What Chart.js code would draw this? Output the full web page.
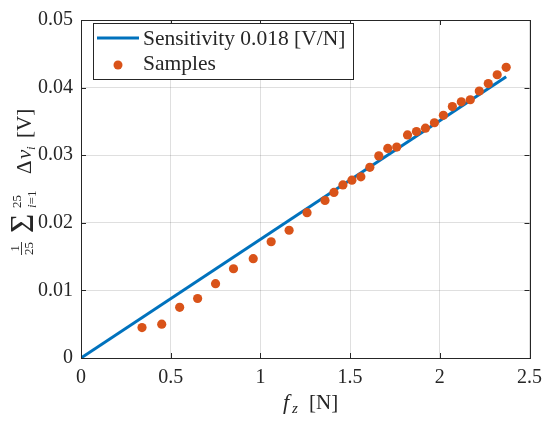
<!DOCTYPE html>
<html>
<head>
<meta charset="utf-8">
<script src="https://cdn.jsdelivr.net/npm/chart.js@4"></script>
<style>
  body { margin: 0; background: #fff; }
  #wrap { width: 550px; height: 423px; }
</style>
</head>
<body>
<div id="wrap"><canvas id="myChart" width="550" height="423"></canvas></div>
<script>
const xTicks = [0, 0.5, 1, 1.5, 2, 2.5];
const xTickLabels = ["0", "0.5", "1", "1.5", "2", "2.5"];
const yTicks = [0, 0.01, 0.02, 0.03, 0.04, 0.05];
const yTickLabels = ["0", "0.01", "0.02", "0.03", "0.04", "0.05"];

// applied force [N] and mean voltage change [V] of the samples
const forceN = [0.34, 0.45, 0.55, 0.65, 0.75, 0.85, 0.96, 1.06, 1.16, 1.26, 1.36,
  1.41, 1.46, 1.51, 1.56, 1.61, 1.66, 1.71, 1.76, 1.82, 1.87, 1.92, 1.97, 2.02,
  2.07, 2.12, 2.17, 2.22, 2.27, 2.32, 2.37];
const meanDeltaV = [0.0045, 0.0050, 0.0075, 0.0088, 0.0110, 0.0132, 0.0147, 0.0172,
  0.0189, 0.0215, 0.0233, 0.0245, 0.0256, 0.0263, 0.0268, 0.0282, 0.0299, 0.0310,
  0.0312, 0.0330, 0.0335, 0.0340, 0.0348, 0.0359, 0.0372, 0.0379, 0.0382, 0.0395,
  0.0406, 0.0419, 0.0430];

// sensitivity fit line
const fitX = [0, 2.37];
const fitY = [0, 0.0416];

const labels = ["Sensitivity 0.018 [V/N]", "Samples"];

const SERIF = '"Liberation Serif", "DejaVu Serif", serif';
const INK = "#262626";
const BLUE = "#0072BD";
const ORANGE = "#D95319";

const boxPlugin = {
  id: "boxPlugin",
  afterDraw(chart) {
    const ctx = chart.ctx;
    const a = chart.chartArea;
    const xs = chart.scales.x, ys = chart.scales.y;
    ctx.save();
    // axes box
    ctx.strokeStyle = INK;
    ctx.lineWidth = 1;
    ctx.strokeRect(Math.round(a.left) + 0.5, Math.round(a.top) + 0.5,
      Math.round(a.right - a.left), Math.round(a.bottom - a.top));
    // inward ticks on all sides
    ctx.beginPath();
    xTicks.forEach(v => {
      const px = Math.round(xs.getPixelForValue(v)) + 0.5;
      ctx.moveTo(px, a.bottom); ctx.lineTo(px, a.bottom - 5);
      ctx.moveTo(px, a.top); ctx.lineTo(px, a.top + 5);
    });
    yTicks.forEach(v => {
      const py = Math.round(ys.getPixelForValue(v)) + 0.5;
      ctx.moveTo(a.left, py); ctx.lineTo(a.left + 5, py);
      ctx.moveTo(a.right, py); ctx.lineTo(a.right - 5, py);
    });
    ctx.stroke();

    // legend
    ctx.fillStyle = "#fff";
    ctx.fillRect(93, 23, 260, 56);
    ctx.strokeStyle = INK;
    ctx.strokeRect(93.5, 23.5, 260, 56);
    ctx.strokeStyle = BLUE;
    ctx.lineWidth = 3;
    ctx.beginPath();
    ctx.moveTo(97, 38); ctx.lineTo(139, 38);
    ctx.stroke();
    ctx.fillStyle = ORANGE;
    ctx.beginPath();
    ctx.arc(118, 65, 4.5, 0, Math.PI * 2);
    ctx.fill();
    ctx.fillStyle = INK;
    ctx.font = "21.5px " + SERIF;
    ctx.textBaseline = "alphabetic";
    ctx.textAlign = "left";
    ctx.fillText(labels[0], 143, 45);
    ctx.fillText(labels[1], 143, 70);

    // x title: f_z [N]
    ctx.font = "italic 22px " + SERIF;
    ctx.fillText("f", 283, 409);
    ctx.font = "italic 15px " + SERIF;
    ctx.fillText("z", 292, 413);
    ctx.font = "21px " + SERIF;
    ctx.fillText("[N]", 309, 409);

    // y title: 1/25 sum_{i=1}^{25} Δv_i [V]
    ctx.translate(31, 258);
    ctx.rotate(-Math.PI / 2);
    ctx.font = "13px " + SERIF;
    const dW = ctx.measureText("25").width;
    const nW = ctx.measureText("1").width;
    ctx.fillText("1", 3 + (dW - nW) / 2, -12);
    ctx.fillRect(3, -10, dW, 0.9);
    ctx.fillText("25", 3, 2);
    ctx.font = "33px " + SERIF;
    ctx.fillText("\u03A3", 25, 2);
    ctx.font = "13px " + SERIF;
    ctx.fillText("25", 50, -10);
    ctx.font = "italic 13px " + SERIF;
    ctx.fillText("i", 50, 5);
    const iW = ctx.measureText("i").width;
    ctx.font = "13px " + SERIF;
    ctx.fillText("=1", 50 + iW, 5);
    ctx.font = "21px " + SERIF;
    ctx.fillText("\u0394", 84, 0);
    ctx.font = "italic 21px " + SERIF;
    ctx.fillText("v", 99, 0);
    ctx.font = "italic 13px " + SERIF;
    ctx.fillText("i", 108, 4);
    ctx.font = "21px " + SERIF;
    ctx.fillText("[V]", 120, 0);
    ctx.restore();
  }
};

new Chart(document.getElementById("myChart"), {
  type: "scatter",
  data: {
    datasets: [
      {
        label: labels[0],
        data: fitX.map((x, i) => ({ x, y: fitY[i] })),
        showLine: true,
        borderColor: BLUE,
        borderWidth: 3,
        pointRadius: 0,
        order: 2,
      },
      {
        label: labels[1],
        data: forceN.map((x, i) => ({ x, y: meanDeltaV[i] })),
        backgroundColor: ORANGE,
        borderWidth: 0,
        pointRadius: 4.6,
        order: 1,
      },
    ],
  },
  options: {
    responsive: false,
    animation: false,
    devicePixelRatio: 1,
    layout: { padding: { left: 0, top: 13, right: 17, bottom: 0 } },
    plugins: { legend: { display: false }, tooltip: { enabled: false } },
    scales: {
      x: {
        type: "linear",
        min: 0,
        max: 2.5,
        afterBuildTicks: s => { s.ticks = xTicks.map(v => ({ value: v })); },
        afterFit: s => { s.height = 65; },
        grid: { color: "rgba(38,38,38,0.15)", drawTicks: false },
        border: { display: false },
        ticks: {
          padding: 8,
          color: INK,
          font: { family: SERIF, size: 20 },
          maxRotation: 0,
          callback: v => xTickLabels[xTicks.indexOf(v)],
        },
      },
      y: {
        type: "linear",
        min: 0,
        max: 0.05,
        afterBuildTicks: s => { s.ticks = yTicks.map(v => ({ value: v })); },
        afterFit: s => { s.width = 81; },
        grid: { color: "rgba(38,38,38,0.15)", drawTicks: false },
        border: { display: false },
        ticks: {
          padding: 8,
          color: INK,
          font: { family: SERIF, size: 20 },
          callback: v => yTickLabels[yTicks.indexOf(v)],
        },
      },
    },
  },
  plugins: [boxPlugin],
});
</script>
</body>
</html>
